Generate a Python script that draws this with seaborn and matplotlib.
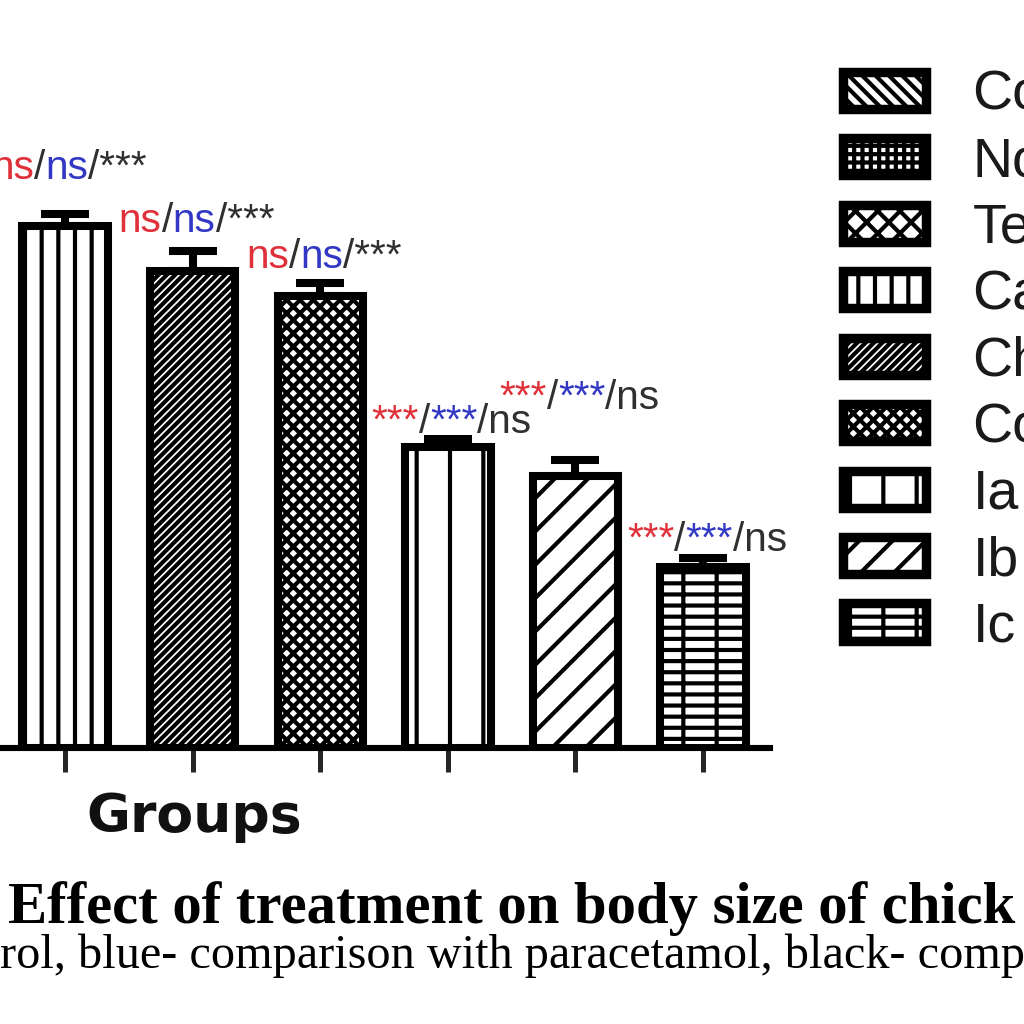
import matplotlib
matplotlib.use("Agg")

import matplotlib.pyplot as plt
import pandas as pd
import seaborn as sns
from matplotlib.patches import Patch
from matplotlib.offsetbox import TextArea, HPacker, AnnotationBbox

# datos (solo las barras visibles)
groups = ["Ca", "Ch", "Co", "Ia", "Ib", "Ic"]
values = [5.22, 4.77, 4.52, 3.01, 2.72, 1.81]
errors = [0.12, 0.20, 0.13, 0.08, 0.16, 0.09]
vs_control = ["ns", "ns", "ns", "***", "***", "***"]
vs_paracetamol = ["ns", "ns", "ns", "***", "***", "***"]
vs_third = ["***", "***", "***", "ns", "ns", "ns"]

legend_labels = ["Co", "No", "Te", "Ca", "Ch", "Co", "Ia", "Ib", "Ic"]
legend_hatches = ["\\\\\\\\\\", "++++", "xxx", "||", "////////", "xxxxx", "|", "//", "---|"]
bar_hatches = legend_hatches[3:]

title = "Effect of treatment on body size of chick"
subtitle = "rol, blue- comparison with paracetamol, black- comp"

df = pd.DataFrame({"group": groups, "value": values, "err": errors})

sns.set_style("white")
plt.rcParams["font.family"] = ["Liberation Sans", "DejaVu Sans"]
plt.rcParams["hatch.linewidth"] = 1.5

DPI = 200
fig = plt.figure(figsize=(1024 / DPI, 1024 / DPI), dpi=DPI)
ax = fig.add_axes([0, 1 - 748 / 1024, 770 / 1024, 748 / 1024])

sns.barplot(data=df, x="group", y="value", color="white", edgecolor="black",
            linewidth=2.9, width=0.67, errorbar=None, ax=ax, zorder=3)
for patch, h in zip(ax.patches, bar_hatches):
    patch.set_hatch(h)
    patch.set_facecolor("white")

ax.errorbar(range(len(groups)), df["value"], yerr=[[0] * len(groups), df["err"]],
            fmt="none", ecolor="black", elinewidth=2.9, capsize=8.6, capthick=2.9, zorder=2)

ax.set_xlim(-0.51, 5.525)
ax.set_ylim(0, 7.48)
for s in ["left", "top", "right"]:
    ax.spines[s].set_visible(False)
ax.spines["bottom"].set_linewidth(2.2)
ax.spines["bottom"].set_color("black")
ax.tick_params(axis="x", length=8.5, width=1.8, direction="out", labelbottom=False, bottom=True)
ax.tick_params(axis="y", left=False, labelleft=False)
ax.set_ylabel("")
ax.set_xlabel("Groups", fontsize=19.3, fontweight="bold", color="#111111", family="DejaVu Sans")
ax.xaxis.set_label_coords(194 / 770, -0.058)

# etiquetas de significancia (rojo / azul / negro)
red, blue, dark = "#e0303a", "#3238c4", "#303030"
label_gap = [0.36, 0.20, 0.16, 0.07, 0.52, 0.08]
for i in range(len(groups)):
    parts = [(vs_control[i], red), ("/", dark), (vs_paracetamol[i], blue), ("/" + vs_third[i], dark)]
    areas = [TextArea(t, textprops=dict(color=c, fontsize=14.6)) for t, c in parts]
    box = HPacker(children=areas, align="baseline", pad=0, sep=0)
    y = values[i] + errors[i] + label_gap[i] - 0.09
    ab = AnnotationBbox(box, (i + 0.03, y), xycoords="data", box_alignment=(0.5, 0),
                        frameon=False, pad=0, annotation_clip=False)
    ax.add_artist(ab)

handles = [Patch(facecolor="white", edgecolor="black", hatch=h, linewidth=3.4) for h in legend_hatches]
fig.legend(handles, legend_labels, loc="upper left", bbox_to_anchor=(843 / 1024, 1 - 70 / 1024),
           bbox_transform=fig.transFigure, frameon=False, borderpad=0, borderaxespad=0,
           fontsize=20, handlelength=1.5, handleheight=0.65, handletextpad=0.83,
           labelspacing=0.26, labelcolor="#1a1a1a")

fig.text(0.5, 1 - 923 / 1024, title, ha="center", va="baseline", fontsize=21.1,
         fontweight="bold", family="Liberation Serif", color="black")
fig.text(0.0, 1 - 968 / 1024, subtitle, ha="left", va="baseline", fontsize=17.4,
         family="Liberation Serif", color="black")

fig.savefig("out.png", dpi=DPI)
